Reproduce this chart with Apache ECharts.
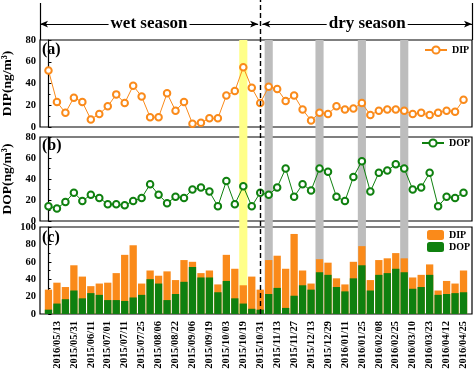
<!DOCTYPE html>
<html><head><meta charset="utf-8">
<script src="https://cdn.jsdelivr.net/npm/echarts@6/dist/echarts.min.js"></script>
<style>html,body{margin:0;padding:0;background:#fff}#c{width:474px;height:369px}</style>
</head><body><div id="c"></div>
<script>
// ---- data ----
const tickLabels = ['2016/05/13','2015/05/31','2015/06/11','2015/07/01','2015/07/11','2015/07/25','2015/08/06','2015/08/22','2015/09/06','2015/09/19','2015/10/03','2015/10/19','2015/10/31','2015/11/13','2015/11/27','2015/12/13','2015/12/29','2016/01/11','2016/01/25','2016/02/08','2016/02/25','2016/03/10','2016/03/23','2016/04/12','2016/04/25'];
const dip = [52,23,13,27,23,7,12,19,30,22,38,28,9,9,31,15,23,3,4,8,8,29,33,55,36,22,37,35,24,29,16,6,13,12,19,16,17,22,11,15,16,16,15,12,13,11,13,15,14,25];
const dop = [14,12,18,27,19,25,22,16,16,15,19,22,35,25,17,23,22,30,32,28,14,38,16,33,14,27,25,32,50,23,35,29,50,47,23,19,42,57,28,46,48,54,50,30,32,46,14,23,22,27];
const barDop = [5,12,17,27,18,24,22,16,16,15,19,22,40,35,16,23,37,54,42,42,25,38,18,12,6,5,23,30,7,21,33,28,48,45,31,26,41,56,27,45,47,52,48,29,31,45,22,23,24,25];
const barDip = [23,24,14,29,25,8,13,20,31,53,60,13,10,9,33,16,25,6,5,8,9,30,34,21,37,23,39,37,45,71,17,7,15,14,10,8,19,22,12,17,17,18,16,13,14,12,5,15,11,25];
const yellowIdx = [23];
const greyIdx = [26,32,37,42];
const splitIdx = 25;

// ---- styles ----
const F = '"Liberation Serif","Times New Roman",serif';
const ORANGE = '#FA8A1A', GREEN = '#0F800F';
const txt = s => ({fontFamily:F, fontWeight:'bold', fontSize:s, color:'#000'});
const boxes = [
  {top:3, height:37},
  {top:40, height:87},
  {top:137, height:84},
  {top:227, height:87},
  {top:40, height:274},
  {top:0, height:314}
];
const grids = boxes.map((b,i)=>({left:40, width:432, top:b.top, height:b.height,
  show: i>=1 && i<=3, borderColor:'#000', borderWidth:1.2, backgroundColor:'transparent',
  containLabel:false, outerBoundsMode:'none'}));
const xAxes = boxes.map((b,i)=>({type:'value', gridIndex:i, min:-1, max:50, interval:1,
  show: i===3, axisLine:{show:false}, axisTick:{show:false}, splitLine:{show:false},
  axisLabel:{show:i===3, rotate:90, margin:7, ...txt(10.5),
    formatter: v => (v>0 && v%2===1 && tickLabels[(v-1)/2]) ? tickLabels[(v-1)/2] : ''}}));
const yCommon = (i, max, name) => ({type:'value', gridIndex:i, min:0, max:max, interval:20,
  name:name, nameLocation:'middle', nameGap:24, nameTextStyle:txt(13.5),
  axisLine:{show:true, lineStyle:{color:'#000', width:1.2}},
  axisTick:{show:true, inside:true, length:3, lineStyle:{color:'#000'}},
  minorTick:{show:true, splitNumber:2, length:2, lineStyle:{color:'#000'}},
  splitLine:{show:false}, axisLabel:{margin:4, ...txt(10.5)}});
const yAxes = [
  {type:'value', gridIndex:0, min:0, max:1, show:false},
  yCommon(1, 80, 'DIP(ng/m³)'),
  yCommon(2, 80, 'DOP(ng/m³)'),
  yCommon(3, 100, ''),
  {type:'value', gridIndex:4, min:0, max:1, show:false},
  {type:'value', gridIndex:5, min:0, max:1, show:false}
];
const arrowLabel = t => ({show:true, formatter:t, position:'middle', distance:0, verticalAlign:'middle',
  backgroundColor:'#fff', padding:[0,2], ...txt(17)});
const arrowEnd = (x, t) => ({coord:[x, 0.43], symbol:'arrow', symbolSize:[5,8], label:arrowLabel(t)});
const bandItems = [
  ...yellowIdx.map(i=>[{xAxis:i-0.48, itemStyle:{color:'#FFFF88'}},{xAxis:i+0.48}]),
  ...greyIdx.map(i=>[{xAxis:i-0.48, itemStyle:{color:'#BDBDBD'}},{xAxis:i+0.48}])
];
const option = {
  animation:false,
  grid:grids, xAxis:xAxes, yAxis:yAxes,
  legend:[
    {data:['DIP'], left:424, top:45, padding:0, itemWidth:22, itemHeight:9, textStyle:txt(10), selectedMode:false},
    {data:['DOP'], left:421, top:138, padding:0, itemWidth:22, itemHeight:9, textStyle:txt(10), selectedMode:false},
    {data:['DIP (c)','DOP (c)'], left:427, top:230, padding:0, orient:'vertical', itemGap:2, itemWidth:17, itemHeight:10,
     textStyle:txt(10), selectedMode:false, formatter: n => n.replace(' (c)','')}
  ],
  graphic:[
    {type:'text', left:42, top:42, style:{text:'(a)', font:'bold 16px '+F, fill:'#000'}},
    {type:'text', left:42, top:138, style:{text:'(b)', font:'bold 16px '+F, fill:'#000'}},
    {type:'text', left:42, top:230, style:{text:'(c)', font:'bold 16px '+F, fill:'#000'}}
  ],
  series:[
    {type:'line', xAxisIndex:0, yAxisIndex:0, data:[], silent:true,
     markLine:{silent:true, symbol:['none','none'], animation:false,
       lineStyle:{color:'#000', width:1.2, type:'solid'}, label:{show:false},
       data:[{xAxis:-1},{xAxis:50},
             [arrowEnd(-1,'wet season'), arrowEnd(splitIdx-0.25,'wet season')],
             [arrowEnd(splitIdx+0.25,'dry season'), arrowEnd(50,'dry season')]]}},
    {type:'line', xAxisIndex:4, yAxisIndex:4, data:[], silent:true, z:1,
     markArea:{silent:true, animation:false, itemStyle:{opacity:1}, data:bandItems}},
    {type:'line', xAxisIndex:5, yAxisIndex:5, data:[], silent:true, z:4,
     markLine:{silent:true, symbol:['none','none'], animation:false, label:{show:false},
       lineStyle:{color:'#000', width:1.4, type:[5,3]}, data:[{xAxis:splitIdx}]}},
    {name:'DIP', type:'line', xAxisIndex:1, yAxisIndex:1, data:dip.map((v,i)=>[i,v]), z:3,
     symbol:'emptyCircle', symbolSize:6.5, lineStyle:{color:ORANGE, width:1}, itemStyle:{color:ORANGE, borderWidth:2}},
    {name:'DOP', type:'line', xAxisIndex:2, yAxisIndex:2, data:dop.map((v,i)=>[i,v]), z:3,
     symbol:'emptyCircle', symbolSize:6.5, lineStyle:{color:GREEN, width:1}, itemStyle:{color:GREEN, borderWidth:2}},
    {name:'DIP (c)', type:'bar', xAxisIndex:3, yAxisIndex:3, z:3, barWidth:7.3, barGap:'-100%',
     data:barDip.map((v,i)=>[i, v + barDop[i]]), itemStyle:{color:ORANGE}},
    {name:'DOP (c)', type:'bar', xAxisIndex:3, yAxisIndex:3, z:3, barWidth:7.3, barGap:'-100%',
     data:barDop.map((v,i)=>[i, v]), itemStyle:{color:GREEN}}
  ]
};
const chart = echarts.init(document.getElementById('c'));
chart.setOption(option);
</script></body></html>
